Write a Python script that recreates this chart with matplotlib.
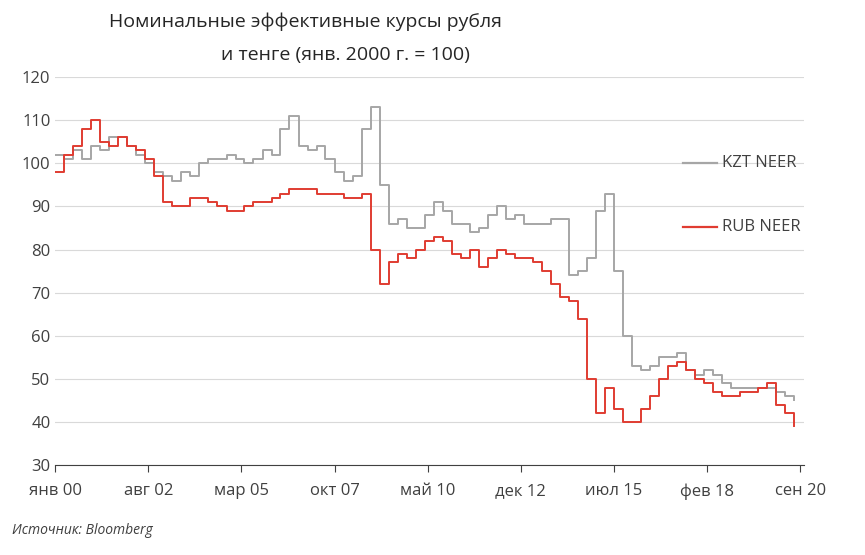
import numpy as np
import pandas as pd
import matplotlib
matplotlib.use("Agg")
import matplotlib.pyplot as plt
from matplotlib.lines import Line2D

plt.rcParams["font.family"] = "Open Sans"

# quarterly values, Q1 2000 .. Q3 2020
kzt = [102, 101, 103, 101, 104, 103, 106, 106, 104, 102, 100, 98,
       97, 96, 98, 97, 100, 101, 101, 102, 101, 100, 101, 103,
       102, 108, 111, 104, 103, 104, 101, 98, 96, 97, 108, 113,
       95, 86, 87, 85, 85, 88, 91, 89, 86, 86, 84, 85,
       88, 90, 87, 88, 86, 86, 86, 87, 87, 74, 75, 78,
       89, 93, 75, 60, 53, 52, 53, 55, 55, 56, 52, 51,
       52, 51, 49, 48, 48, 48, 48, 48, 47, 46, 45]
rub = [98, 102, 104, 108, 110, 105, 104, 106, 104, 103, 101, 97,
       91, 90, 90, 92, 92, 91, 90, 89, 89, 90, 91, 91,
       92, 93, 94, 94, 94, 93, 93, 93, 92, 92, 93, 80,
       72, 77, 79, 78, 80, 82, 83, 82, 79, 78, 80, 76,
       78, 80, 79, 78, 78, 77, 75, 72, 69, 68, 64, 50,
       42, 48, 43, 40, 40, 43, 46, 50, 53, 54, 52, 50,
       49, 47, 46, 46, 47, 47, 48, 49, 44, 42, 39]
dates = pd.date_range("2000-01-01", periods=len(kzt), freq="QS")
tick_dates = pd.date_range("2000-01-01", "2020-09-01", freq="31MS")
tick_labels = ["янв 00", "авг 02", "мар 05", "окт 07", "май 10",
               "дек 12", "июл 15", "фев 18", "сен 20"]

fig = plt.figure(figsize=(8.65, 5.55), dpi=100)
ax = fig.add_axes([0.064, 0.162, 0.866, 0.699])
ax.step(dates, kzt, where="post", color="#a6a6a6", lw=1.4)
ax.step(dates, rub, where="post", color="#e03c31", lw=1.4)

ax.set_ylim(30, 120)
ax.set_yticks(range(30, 121, 10))
ax.set_xlim(pd.Timestamp("2000-01-01"), pd.Timestamp("2020-10-15"))
ax.set_xticks(tick_dates)
ax.set_xticklabels(tick_labels)
ax.grid(axis="y", color="#d9d9d9", lw=0.8)
ax.set_axisbelow(True)
for s in ["left", "right", "top"]:
    ax.spines[s].set_visible(False)
ax.spines["bottom"].set_color("#404040")
ax.tick_params(axis="y", length=0, labelsize=12, colors="#404040")
ax.tick_params(axis="x", length=5, labelsize=12, colors="#404040", pad=8)

# legend drawn by hand at the right
fig.add_artist(Line2D([683/865, 717/865], [1-163/555]*2, color="#a6a6a6", lw=1.6))
fig.text(722/865, 1-163/555, "KZT NEER", fontsize=12, va="center", color="#404040")
fig.add_artist(Line2D([683/865, 717/865], [1-227/555]*2, color="#e03c31", lw=1.6))
fig.text(722/865, 1-227/555, "RUB NEER", fontsize=12, va="center", color="#404040")

fig.text(305/865, 1-22/555, "Номинальные эффективные курсы рубля", fontsize=14,
         ha="center", va="center", color="#262626")
fig.text(345/865, 1-55/555, "и тенге (янв. 2000 г. = 100)", fontsize=14,
         ha="center", va="center", color="#262626")
fig.text(12/865, 1-530/555, "Источник: Bloomberg", fontsize=10, style="italic",
         va="center", color="#404040")

fig.savefig("out.png", dpi=100)
